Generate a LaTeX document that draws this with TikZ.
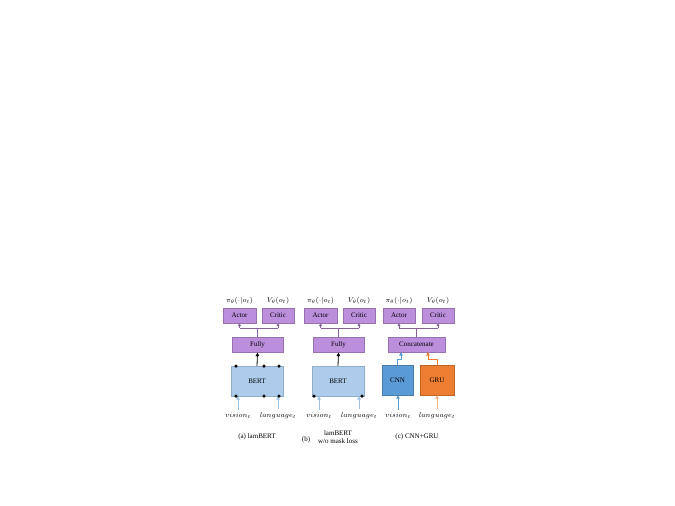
\documentclass[tikz,border=0pt]{standalone}
\usepackage{fontspec}
\setmainfont{Liberation Serif}
\usetikzlibrary{arrows.meta}
\definecolor{pur}{HTML}{BC8FDD}
\definecolor{lb}{HTML}{ADCBEA}
\definecolor{lba}{HTML}{9DC3E6}
\definecolor{cnn}{HTML}{5B9BD5}
\definecolor{gru}{HTML}{ED7D31}
\definecolor{gra}{HTML}{F4B183}
\begin{document}
\begin{tikzpicture}[x=1pt,y=-1pt,
  font=\fontsize{7}{8}\selectfont,
  pbox/.style={fill=pur,draw=pur!80!black,line width=0.3pt,inner sep=0pt,minimum height=15pt},
  bbox/.style={fill=lb,draw=lb!85!black,line width=0.3pt,inner sep=0pt,minimum width=52pt,minimum height=30pt},
  parr/.style={draw=pur!70!black,line width=0.6pt,-{Triangle[length=3pt,width=3pt]}},
  pl/.style={draw=pur!70!black,line width=0.6pt},
  dot/.style={circle,fill=black,inner sep=0pt,minimum size=3.5pt},
  inarr/.style={draw=lba,line width=0.8pt,-{Triangle[length=3.5pt,width=3.5pt]}},
  blk/.style={draw=black,line width=0.8pt,-{Triangle[length=3.5pt,width=3.5pt]}}]
\useasboundingbox (0,0) rectangle (675,506);
% panel a,b
\foreach \p/\dx in {a/0,b/81}{
  \node[pbox,minimum width=33pt] (act\p) at (239.5+\dx,315.5) {Actor};
  \node[pbox,minimum width=32pt] (cri\p) at (278+\dx,315.5) {Critic};
  \node[pbox,minimum width=51pt] (ful\p) at (257.5+\dx,345) {Fully};
  \node[bbox] (bert\p) at (257+\dx,381) {BERT};
  \node (pi\p) at (act\p.north) [above=0pt] {$\pi_\theta(\cdot|o_t)$};
  \node (v\p) at (cri\p.north) [above=0pt] {$V_\theta(o_t)$};
  \coordinate (j\p) at (257.5+\dx,328);
  \draw[pl] (ful\p.north) -- (j\p);
  \draw[pl] (239.5+\dx,328) -- (278+\dx,328);
  \draw[parr] (239.5+\dx,328) -- (act\p.south);
  \draw[parr] (278+\dx,328) -- (cri\p.south);
  \draw[blk] (bert\p.north) -- (ful\p.south);
}
% panel c
\node[pbox,minimum width=32pt] (actc) at (399,315.5) {Actor};
\node[pbox,minimum width=32pt] (cric) at (438,315.5) {Critic};
\node[pbox,minimum width=57pt] (con) at (416.5,344.5) {Concatenate};
\node (pic) at (actc.north) [above=0pt] {$\pi_\theta(\cdot|o_t)$};
\node (vc) at (cric.north) [above=0pt] {$V_\theta(o_t)$};
\draw[pl] (con.north) -- (416.5,328);
\draw[pl] (399,328) -- (438,328);
\draw[parr] (399,328) -- (actc.south);
\draw[parr] (438,328) -- (cric.south);
\node[fill=cnn,draw=cnn!80!black,line width=0.3pt,minimum width=31pt,minimum height=30pt,inner sep=0pt] (cnn) at (397.5,380) {CNN};
\node[fill=gru,draw=gru!80!black,line width=0.3pt,minimum width=34pt,minimum height=30pt,inner sep=0pt] (gru) at (437,380) {GRU};
\draw[draw=cnn,line width=0.8pt,-{Triangle[length=3.5pt,width=3.5pt]}] (cnn.north) |- (401,359) -- (401,352);
\draw[draw=gru,line width=0.8pt,-{Triangle[length=3.5pt,width=3.5pt]}] (gru.north) |- (428,359) -- (428,352);
% inputs
\node (via) at (238,416) {$vision_t$};
\node (laa) at (278,416) {$language_t$};
\node (vib) at (319,416) {$vision_t$};
\node (lab) at (359,416) {$language_t$};
\node (vic) at (398,416) {$vision_t$};
\node (lac) at (437,416) {$language_t$};
\draw[inarr] (via.north -| 238,0) ++(0,0) -- (238,396);
\draw[inarr] (laa.north) -- (laa.north |- berta.south);
\draw[inarr] (vib.north) -- (vib.north |- bertb.south);
\draw[inarr] (lab.north) -- (lab.north |- bertb.south);
\draw[draw=cnn,line width=0.8pt,-{Triangle[length=3.5pt,width=3.5pt]}] (vic.north) -- (vic.north |- cnn.south);
\draw[draw=gra,line width=0.8pt,-{Triangle[length=3.5pt,width=3.5pt]}] (lac.north) -- (lac.north |- gru.south);
% dots
\foreach \x in {236,264,279}{\node[dot] at (\x,366) {}; \node[dot] at (\x,396) {};}
\node[dot] at (314,396) {}; \node[dot] at (362,396) {};
% captions
\node (ca) at (257,437) {(a) lamBERT};
\node[align=center] (cb) at (338,437) {lamBERT\\w/o mask loss};
\node (cbl) at (306,440) {(b)};
\node (cc) at (417,437) {(c) CNN+GRU};
\end{tikzpicture}
\end{document}
